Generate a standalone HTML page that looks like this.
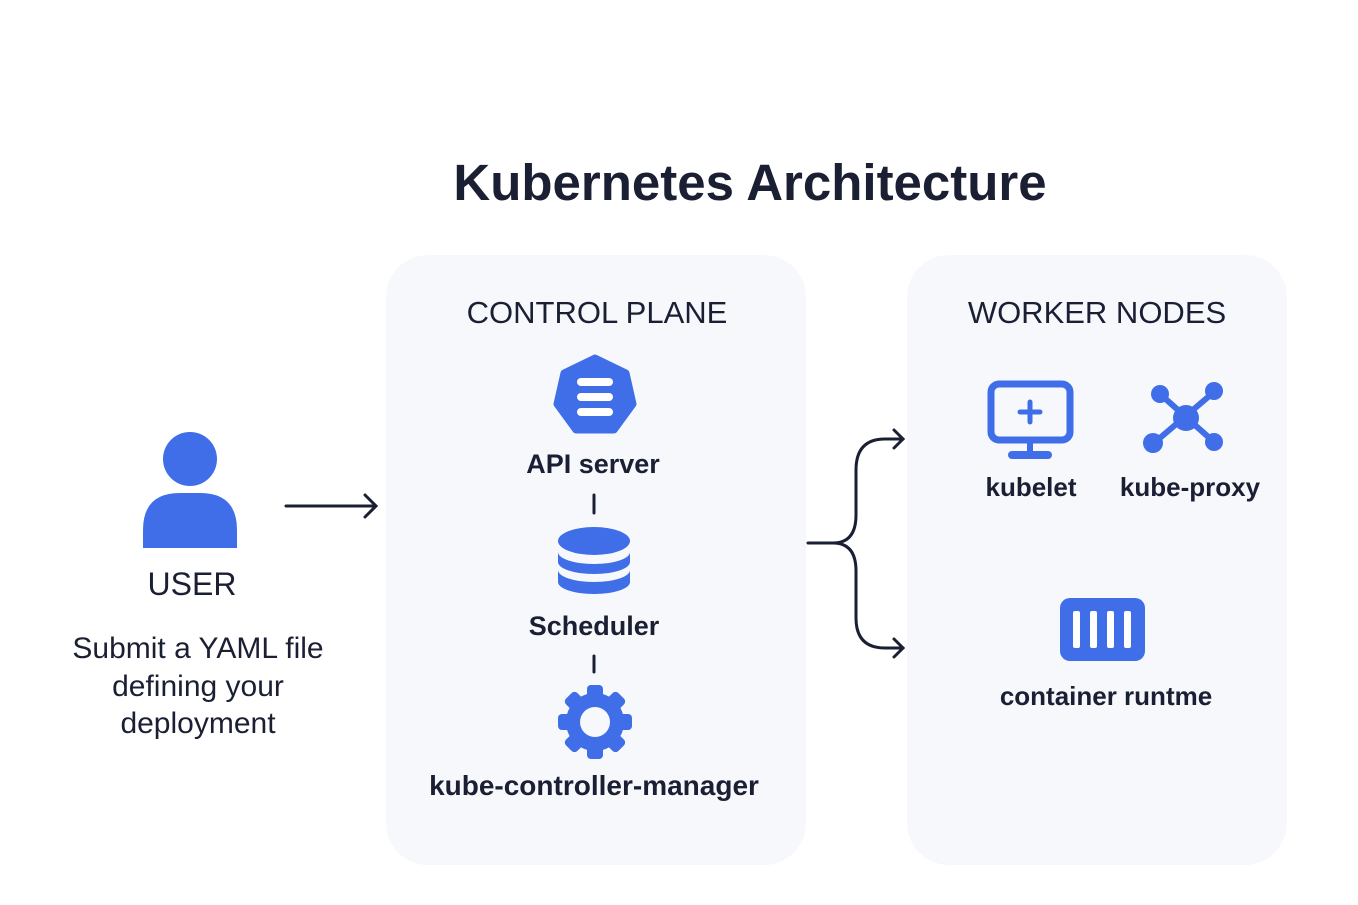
<!DOCTYPE html>
<html><head><meta charset="utf-8"><style>
html,body{margin:0;padding:0;background:#fff;}
svg{display:block}
text{font-family:"Liberation Sans",sans-serif;fill:#1b1f33}
</style></head><body>
<svg width="1358" height="905" viewBox="0 0 1358 905" xmlns="http://www.w3.org/2000/svg">
<rect width="1358" height="905" fill="#fff"/>
<text x="750" y="200" font-size="51" font-weight="bold" text-anchor="middle">Kubernetes Architecture</text>
<rect x="386" y="255" width="420" height="610" rx="42" fill="#f6f8fc"/>
<rect x="907" y="255" width="380" height="610" rx="42" fill="#f6f8fc"/>
<text x="597" y="323" font-size="31" text-anchor="middle">CONTROL PLANE</text>
<text x="1097" y="323" font-size="31" text-anchor="middle">WORKER NODES</text>

<!-- user -->
<circle cx="190" cy="459" r="27" fill="#3f6ee8"/>
<path d="M143 548 V530 Q143 493 180 493 H200 Q237 493 237 530 V548 Z" fill="#3f6ee8"/>
<text x="192" y="595" font-size="32" text-anchor="middle">USER</text>
<text x="198" y="658" font-size="30" text-anchor="middle">Submit a YAML file</text>
<text x="198" y="696" font-size="30" text-anchor="middle">defining your</text>
<text x="198" y="733" font-size="30" text-anchor="middle">deployment</text>
<g stroke="#1b1f33" stroke-width="3" fill="none" stroke-linecap="round">
<line x1="286" y1="506" x2="375" y2="506"/>
<polyline points="365,495 376,506 365,517"/>
<path d="M808 543 H833 Q856 543 856 515 V470 Q856 439 885 439 H903"/>
<path d="M833 543 Q856 543 856 571 V618 Q856 648 885 648 H903"/>
<polyline points="894,430 903,439 894,448"/>
<polyline points="894,639 903,648 894,657"/>
<line x1="594" y1="495" x2="594" y2="513"/>
<line x1="594" y1="656" x2="594" y2="672"/>
</g>

<!-- API server -->
<polygon points="595,358 626,373 633,404 614,430 576,430 557,404 564,373" fill="#3f6ee8" stroke="#3f6ee8" stroke-width="7" stroke-linejoin="round"/>
<g fill="#fff"><rect x="577" y="378" width="36" height="8" rx="4"/><rect x="577" y="393" width="36" height="8" rx="4"/><rect x="577" y="408" width="36" height="8" rx="4"/></g>
<text x="593" y="473" font-size="27" font-weight="bold" text-anchor="middle">API server</text>

<!-- db -->
<path d="M558 570 V582 A36 12 0 0 0 630 582 V570 A36 12 0 0 1 558 570 Z" fill="#3f6ee8"/>
<path d="M558 552 V562 A36 12 0 0 0 630 562 V552 A36 12 0 0 1 558 552 Z" fill="#3f6ee8"/>
<ellipse cx="594" cy="541" rx="36" ry="14" fill="#3f6ee8"/>
<text x="594" y="635" font-size="27" font-weight="bold" text-anchor="middle">Scheduler</text>

<!-- gear -->
<g fill="#3f6ee8" transform="translate(595,722)">
<circle r="29"/>
<g><rect x="-8" y="-37" width="16" height="16" rx="4"/><rect x="-8" y="-37" width="16" height="16" rx="4" transform="rotate(45)"/><rect x="-8" y="-37" width="16" height="16" rx="4" transform="rotate(90)"/><rect x="-8" y="-37" width="16" height="16" rx="4" transform="rotate(135)"/><rect x="-8" y="-37" width="16" height="16" rx="4" transform="rotate(180)"/><rect x="-8" y="-37" width="16" height="16" rx="4" transform="rotate(225)"/><rect x="-8" y="-37" width="16" height="16" rx="4" transform="rotate(270)"/><rect x="-8" y="-37" width="16" height="16" rx="4" transform="rotate(315)"/></g>
<circle r="15" fill="#f6f8fc"/>
</g>
<text x="594" y="795" font-size="28" font-weight="bold" text-anchor="middle">kube-controller-manager</text>

<!-- kubelet -->
<rect x="991" y="384" width="79" height="56" rx="8" fill="none" stroke="#3f6ee8" stroke-width="7"/>
<line x1="1030" y1="440" x2="1030" y2="455" stroke="#3f6ee8" stroke-width="6"/>
<line x1="1012" y1="455" x2="1048" y2="455" stroke="#3f6ee8" stroke-width="8" stroke-linecap="round"/>
<g stroke="#3f6ee8" stroke-width="5" stroke-linecap="round"><line x1="1020" y1="412" x2="1040" y2="412"/><line x1="1030" y1="402" x2="1030" y2="422"/></g>
<text x="1031" y="496" font-size="26" font-weight="bold" text-anchor="middle">kubelet</text>

<!-- kube-proxy -->
<g stroke="#3f6ee8" stroke-width="6"><line x1="1160" y1="394" x2="1214" y2="442"/><line x1="1214" y1="392" x2="1154" y2="443"/></g>
<g fill="#3f6ee8"><circle cx="1186" cy="418" r="13"/><circle cx="1160" cy="394" r="9"/><circle cx="1214" cy="391" r="9"/><circle cx="1153" cy="443" r="10"/><circle cx="1214" cy="442" r="9"/></g>
<text x="1190" y="496" font-size="26" font-weight="bold" text-anchor="middle">kube-proxy</text>

<!-- container -->
<rect x="1060" y="598" width="85" height="63" rx="10" fill="#3f6ee8"/>
<g fill="#fff"><rect x="1073" y="611" width="7" height="37" rx="2"/><rect x="1090" y="611" width="7" height="37" rx="2"/><rect x="1107" y="611" width="7" height="37" rx="2"/><rect x="1124" y="611" width="7" height="37" rx="2"/></g>
<text x="1106" y="705" font-size="26" font-weight="bold" text-anchor="middle">container runtme</text>
</svg>
</body></html>
